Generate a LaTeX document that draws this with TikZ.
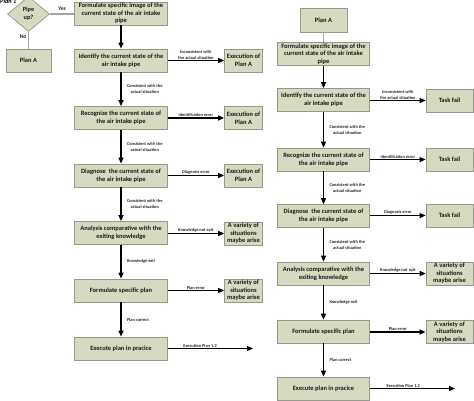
\documentclass[tikz,border=0pt]{standalone}
\usepackage{fontspec}
\setmainfont{Carlito}
\usetikzlibrary{arrows.meta,shapes.geometric}
\definecolor{boxfill}{RGB}{214,218,192}
\definecolor{boxline}{RGB}{150,152,140}
\definecolor{greyline}{RGB}{165,165,165}
\begin{document}
\begin{tikzpicture}[x=1pt,y=-1pt,
  box/.style={draw=boxline, fill=boxfill, line width=0.7pt, inner sep=0pt, align=center,
    font=\fontsize{6.5}{7.6}\selectfont\bfseries, text=black!90, minimum height=23pt},
  mainbox/.style={box, minimum width=92.5pt},
  sidebox/.style={box, minimum width=38pt},
  failbox/.style={box, minimum width=47pt},
  arr/.style={-{Triangle[length=6pt,width=5pt]}, line width=1.2pt, black},
  gline/.style={line width=1.1pt, greyline},
  lab/.style={font=\fontsize{4.4}{5.8}\selectfont\bfseries, align=center, inner sep=0.4pt, text=black!85},
  vlab/.style={lab, anchor=west, xshift=5pt},
  hlab/.style={lab, anchor=south}
]
\clip (0,0) rectangle (474,401);
\fill[white] (0,0) rectangle (474,401);

% ---------- left flow ----------
\node[font=\fontsize{6.3}{7}\selectfont\bfseries\itshape, anchor=west, inner sep=0] (plan1) at (0,1.8) {Plan 1};
\node[shape=diamond, draw=boxline, fill=boxfill, line width=0.7pt, minimum width=42pt, minimum height=35pt,
  inner sep=0pt, align=center, font=\fontsize{6.3}{8.5}\selectfont\bfseries, text=black!90] (pipe) at (28.5,14) {Pipe\\up?};
\node[box, minimum width=45pt] (pa) at (28.5,60.5) {Plan A};

\node[mainbox] (b1) at (121,13.5) {Formulate specific image of the\\current state of the air intake\\pipe};
\node[mainbox] (b2) at (121,60.5) {Identify the current state of the\\air intake pipe};
\node[mainbox] (b3) at (121,118) {Recognize the current state of\\the air intake pipe};
\node[mainbox] (b4) at (121,175.5) {Diagnose\ \ the current state of\\the air intake pipe};
\node[mainbox] (b5) at (121,233) {Analysis comparative with the\\exiting knowledge};
\node[mainbox] (b6) at (121,290.5) {Formulate specific plan};
\node[mainbox] (b7) at (121,348.5) {Execute plan in pracice};

\node[sidebox] (e1) at (243.5,60.5) {Execution of\\Plan A};
\node[sidebox] (e2) at (243.5,118) {Execution of\\Plan A};
\node[sidebox] (e3) at (243.5,175.5) {Execution of\\Plan A};
\node[sidebox] (v1) at (243.5,233.5) {A variety of\\situations\\maybe arise};
\node[sidebox] (v2) at (243.5,290.5) {A variety of\\situations\\maybe arise};
\coordinate (end1) at (253,348.5);

\draw[gline] (pipe.east) -- node[font=\fontsize{5.6}{6}\selectfont\bfseries, text=black!85, above, inner sep=2.5pt] {Yes} (b1.west|-pipe.east);
\draw[gline] (pipe.south) -- node[font=\fontsize{5.6}{6}\selectfont\bfseries, text=black!85, left, pos=0.3, inner sep=1.5pt] {No} (pa.north);

\draw[arr] (b1) -- (b2);
\draw[arr] (b2) -- node[vlab] {Consistent with the\\actual situation} (b3);
\draw[arr] (b3) -- node[vlab] {Consistent with the\\actual situation} (b4);
\draw[arr] (b4) -- node[vlab] {Consistent with the\\actual situation} (b5);
\draw[arr] (b5) -- node[vlab] {Knowledge exit} (b6);
\draw[arr] (b6) -- node[vlab] {Plan correct} (b7);

\draw[arr] (b2) -- node[hlab] {Inconsistent with\\the actual situation} (e1);
\draw[arr] (b3) -- node[hlab] {Identification error} (e2);
\draw[arr] (b4) -- node[hlab] {Diagnosis error} (e3);
\draw[arr] (b5.east|-v1) -- node[hlab] {Knowledge not exit} (v1);
\draw[arr] (b6) -- node[hlab] {Plan error} (v2);
\draw[arr] (b7) -- node[hlab, pos=0.38] {Execution Plan 1.2} (end1);

% ---------- right flow ----------
\node[box, minimum width=47pt, minimum height=24pt] (ra) at (323.5,20) {Plan A};
\node[mainbox] (r1) at (323.5,54) {Formulate specific image of the\\current state of the air intake\\pipe};
\node[mainbox] (r2) at (323.5,100) {Identify the current state of the\\air intake pipe};
\node[mainbox] (r3) at (323.5,159.5) {Recognize the current state of\\the air intake pipe};
\node[mainbox] (r4) at (323.5,216) {Diagnose\ \ the current state of\\the air intake pipe};
\node[mainbox] (r5) at (323.5,273.5) {Analysis comparative with the\\exiting knowledge};
\node[mainbox] (r6) at (323.5,331.5) {Formulate specific plan};
\node[mainbox] (r7) at (323.5,388.5) {Execute plan in pracice};

\node[failbox] (t1) at (449.5,100.5) {Task fail};
\node[failbox] (t2) at (449.5,159.5) {Task fail};
\node[failbox] (t3) at (449.5,215.5) {Task fail};
\node[failbox] (rv1) at (449.5,273.5) {A variety of\\situations\\maybe arise};
\node[failbox] (rv2) at (449.5,332) {A variety of\\situations\\maybe arise};
\coordinate (end2) at (455,388.5);

\draw[gline] (ra) -- (r1);
\draw[arr] (r1) -- (r2);
\draw[arr] (r2) -- node[vlab] {Consistent with the\\actual situation} (r3);
\draw[arr] (r3) -- node[vlab] {Consistent with the\\actual situation} (r4);
\draw[arr] (r4) -- node[vlab] {Consistent with the\\actual situation} (r5);
\draw[arr] (r5) -- node[vlab] {Knowledge exit} (r6);
\draw[arr] (r6) -- node[vlab] {Plan correct} (r7);

\draw[arr] (r2.east|-t1) -- node[hlab] {Inconsistent with\\the actual situation} (t1);
\draw[arr] (r3) -- node[hlab] {Identification error} (t2);
\draw[arr] (r4.east|-t3) -- node[hlab] {Diagnosis error} (t3);
\draw[arr] (r5) -- node[hlab] {Knowledge not exit} (rv1);
\draw[arr] (r6.east|-rv2) -- node[hlab] {Plan error} (rv2);
\draw[arr] (r7) -- node[hlab, pos=0.39] {Execution Plan 1.2} (end2);
\end{tikzpicture}
\end{document}
